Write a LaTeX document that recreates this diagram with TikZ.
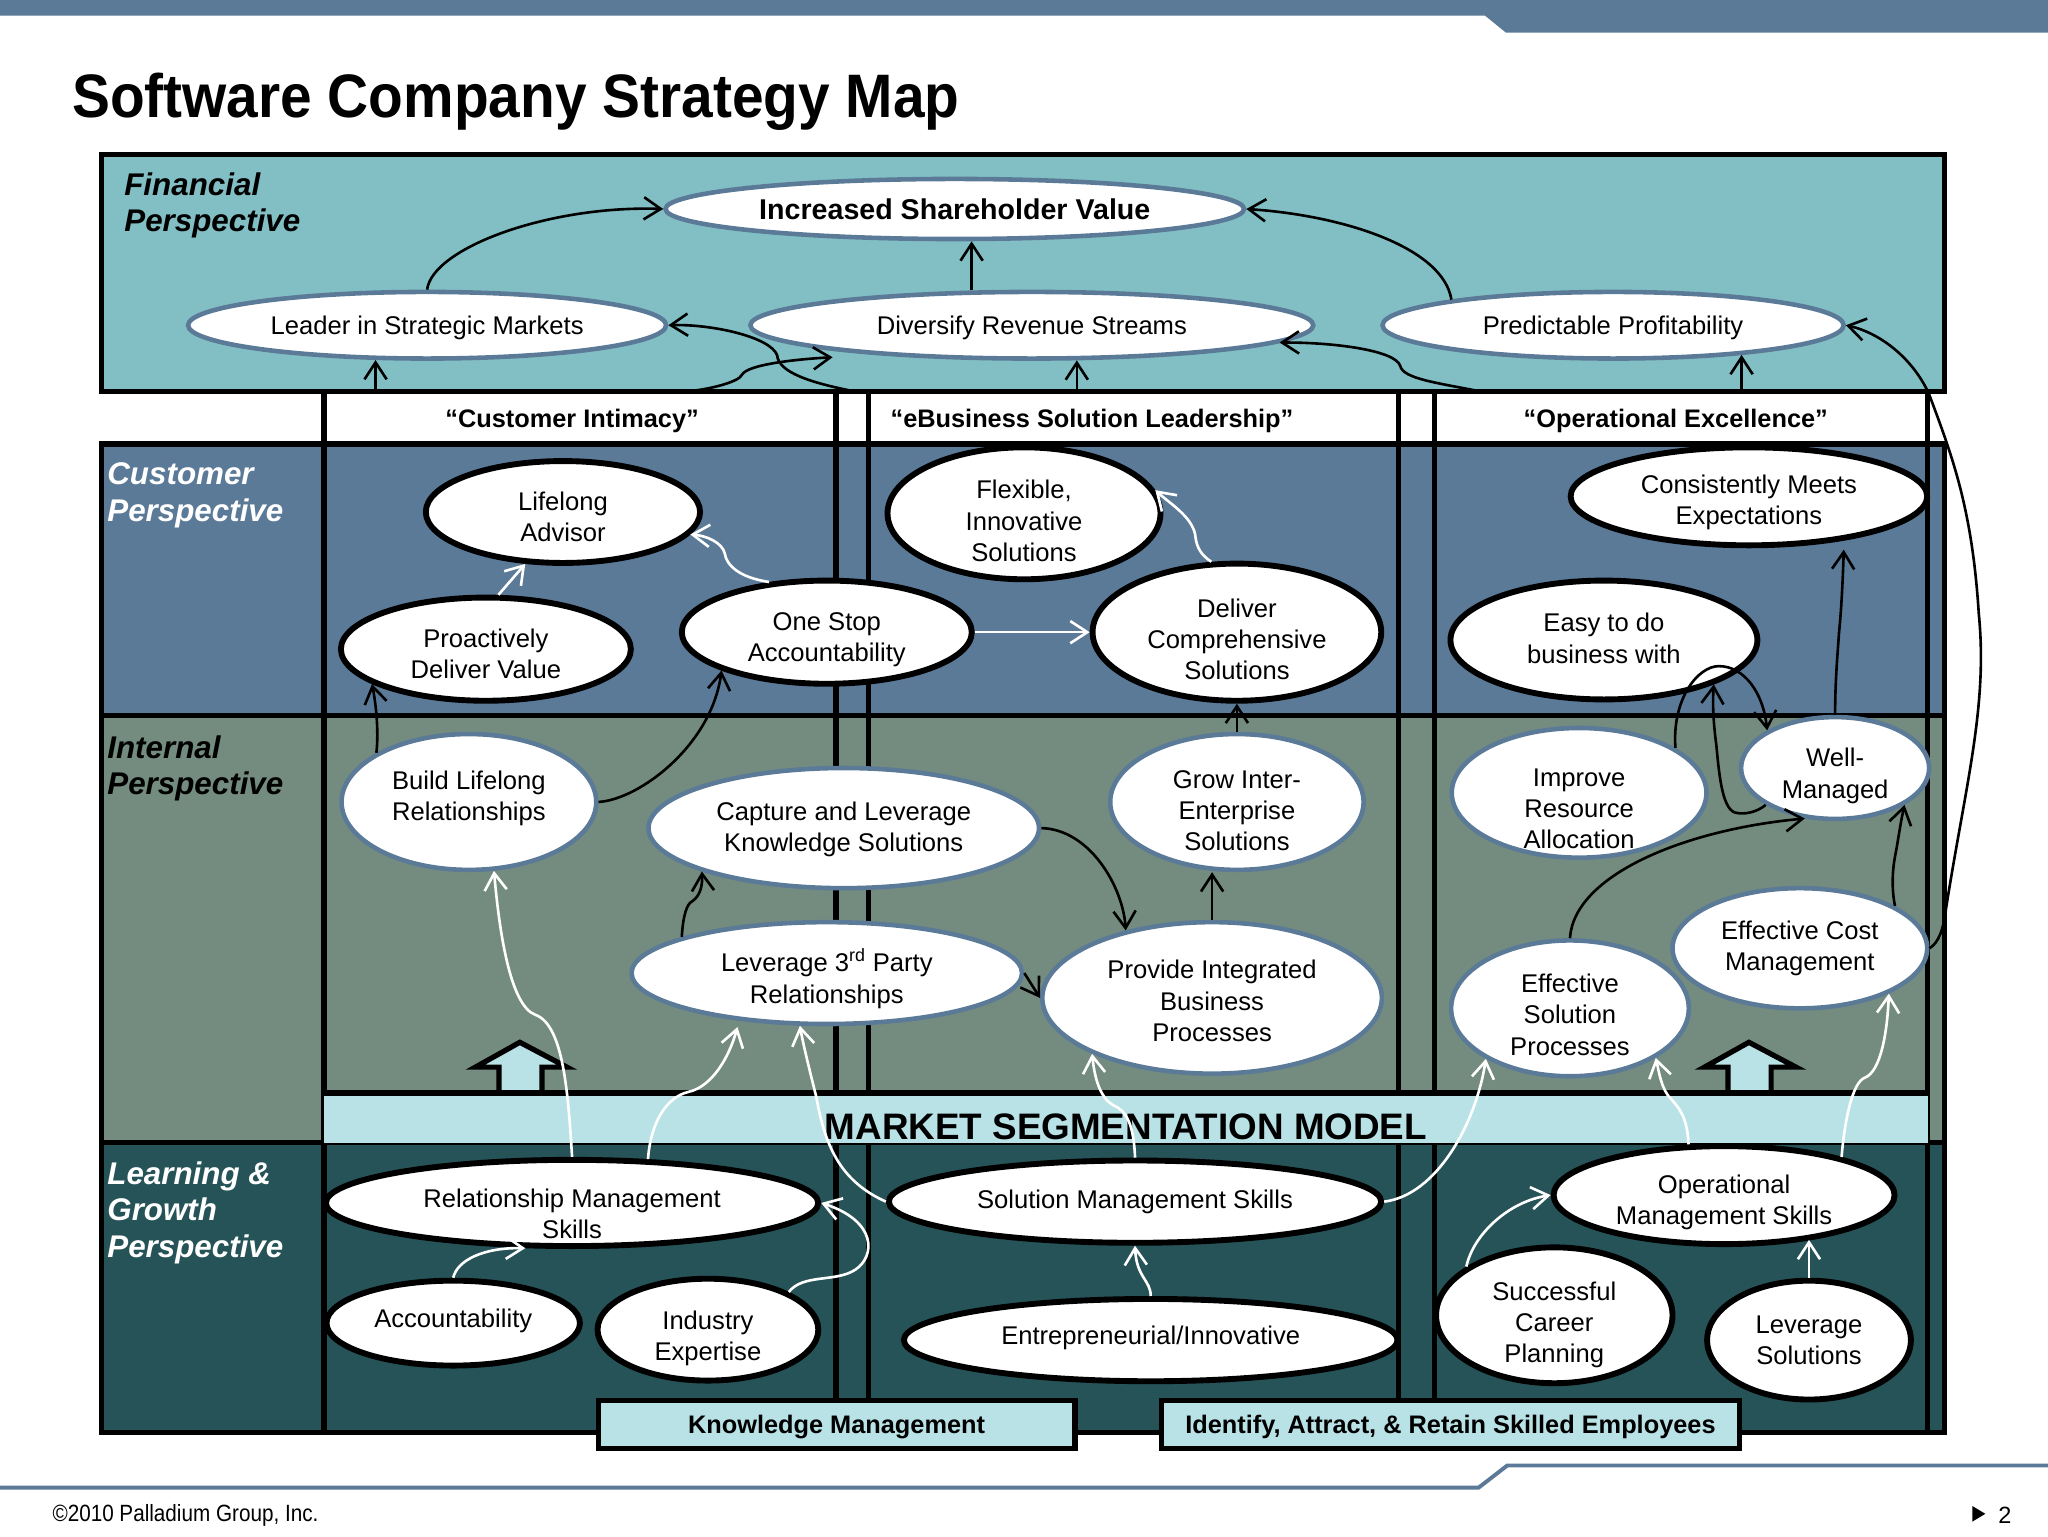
\documentclass[tikz,border=0pt]{standalone}
\usepackage{graphicx}
\usepackage{fontspec}
\setmainfont{Liberation Sans}
\usepackage{tikz}
\usetikzlibrary{shapes.geometric, arrows.meta}
\definecolor{bluegrey}{HTML}{5B7A97}
\definecolor{finteal}{HTML}{82BFC4}
\definecolor{intgreen}{HTML}{748C7F}
\definecolor{learnteal}{HTML}{255357}
\definecolor{palebar}{HTML}{B9E2E6}
\begin{document}
\begin{tikzpicture}[x=1pt, y=-1pt,
    every node/.style={font=\fontsize{19.6}{24}\selectfont, inner sep=0pt}]

    \tikzstyle{blueoval}=[ellipse, draw=bluegrey, line width=3.5pt, fill=white, inner sep=-8pt, align=center, text=black]
    \tikzstyle{blackoval}=[ellipse, draw=black, line width=4.5pt, fill=white, inner sep=-8pt, align=center, text=black]
    \tikzstyle{bandbox}=[draw=black, line width=4pt, line join=miter]
    \tikzstyle{panel}=[black, line width=4pt]
    \tikzstyle{headtext}=[font=\fontsize{19.4}{24}\selectfont\bfseries, minimum height=40pt]
    \tikzstyle{sidetext}=[font=\fontsize{24}{28}\selectfont\bfseries\itshape, align=left, anchor=north west]
    \tikzstyle{barbox}=[draw=black, line width=4pt, fill=palebar, font=\fontsize{19.4}{24}\selectfont\bfseries]
    \tikzstyle{blockarrow}=[draw=black, line width=4pt, fill=palebar, line join=miter]
    \tikzstyle{blackarrow}=[black, line width=2pt, -{Straight Barb[length=13pt,width=17pt]}]
    \tikzstyle{whitearrow}=[white, line width=2pt, -{Straight Barb[length=13pt,width=17pt]}]

    \useasboundingbox (0,0) rectangle (1568,1176);
    \fill[white] (0,0) rectangle (1568,1176);

    \fill[bluegrey] (0,0) -- (1568,0) -- (1568,25) -- (1153,25) -- (1137,12) -- (0,12) -- cycle;
    \draw[bluegrey, line width=3pt] (0,1139) -- (1132,1139) -- (1154,1122) -- (1568,1122);

    \node[anchor=west, font=\fontsize{47}{50}\selectfont\bfseries] (title) at (55,78) {\scalebox{0.926}[1]{Software Company Strategy Map}};

    \fill[white] (248,300) rectangle (1476,340);
    \draw[bandbox, fill=finteal] (78,118) rectangle (1489,300);
    \draw[bandbox, fill=bluegrey] (78,340) rectangle (1489,548);
    \draw[bandbox, fill=intgreen] (78,548) rectangle (1489,875);
    \draw[bandbox, fill=learnteal] (78,875) rectangle (1489,1097);

    \draw[panel] (248,300) -- (248,1097);
    \draw[panel] (640,300) -- (640,1097);
    \draw[panel] (665,300) -- (665,1097);
    \draw[panel] (1071,300) -- (1071,1097);
    \draw[panel] (1098,300) -- (1098,1097);
    \draw[panel] (1476,300) -- (1476,1097);

    \node[sidetext] (finlabel) at (95,132) {Financial\\Perspective};
    \node[sidetext, text=white] (custlabel) at (82,354) {Customer\\Perspective};
    \node[sidetext] (intlabel) at (82,563) {Internal\\Perspective};
    \node[sidetext, text=white] (learnlabel) at (82,889) {Learning \&\\Growth\\Perspective};

    \node[headtext, minimum width=380pt] (custint) at (438,320) {\rule{0pt}{18.5pt}“Customer Intimacy”};
    \node[headtext, minimum width=380pt] (ebiz) at (836,320) {\rule{0pt}{18.5pt}“eBusiness Solution Leadership”};
    \node[headtext, minimum width=360pt] (opex) at (1283,320) {\rule{0pt}{18.5pt}“Operational Excellence”};

    \draw[blockarrow] (398,798) -- (434,817) -- (415,817) -- (415,837) -- (382,837) -- (382,817) -- (364,817) -- cycle;
    \draw[blockarrow] (1339,798) -- (1375,817) -- (1356,817) -- (1356,837) -- (1323,837) -- (1323,817) -- (1305,817) -- cycle;

    \node[minimum width=1228pt, minimum height=38pt, fill=palebar] (mktbar) at (862,856) {};
    \draw[panel] (mktbar.north west) -- (mktbar.north east);
    \node[font=\fontsize{28.2}{32}\selectfont\bfseries] (mkttext) at (862,863) {MARKET SEGMENTATION MODEL};
    \node[barbox, minimum width=365pt, minimum height=37pt] (knowbox) at (640.5,1090.5) {\rule{0pt}{18.5pt}Knowledge Management};
    \node[barbox, minimum width=443pt, minimum height=37pt] (idbox) at (1110.5,1090.5) {\rule{0pt}{18.5pt}Identify, Attract, \& Retain Skilled Employees};

    \node[blueoval, minimum width=443pt, minimum height=46pt, font=\fontsize{21.9}{24}\selectfont\bfseries] (inc) at (731,160) {Increased Shareholder Value};
    \node[blueoval, minimum width=366pt, minimum height=51pt] (leader) at (327,249) {\rule{0pt}{19pt}Leader in Strategic Markets};
    \node[blueoval, minimum width=431pt, minimum height=51pt] (diversify) at (790,249) {\rule{0pt}{19pt}Diversify Revenue Streams};
    \node[blueoval, minimum width=353pt, minimum height=51pt] (predict) at (1235,249) {\rule{0pt}{19pt}Predictable Profitability};

    \node[blackoval, minimum width=210pt, minimum height=78pt] (lifelong) at (431,392) {\rule{0pt}{22pt}Lifelong\\Advisor};
    \node[blackoval, minimum width=222pt, minimum height=79pt] (proactive) at (372,497) {\rule{0pt}{21pt}Proactively\\Deliver Value};
    \node[blackoval, minimum width=222pt, minimum height=79pt] (onestop) at (633,484) {\rule{0pt}{25pt}One Stop\\Accountability};
    \node[blackoval, minimum width=209pt, minimum height=101pt] (flexible) at (784,393) {\rule{0pt}{26pt}Flexible,\\Innovative\\Solutions};
    \node[blackoval, minimum width=221pt, minimum height=105pt] (deliver) at (947,484) {\rule{0pt}{25pt}Deliver\\Comprehensive\\Solutions};
    \node[blackoval, minimum width=273pt, minimum height=75pt] (consistent) at (1339,380) {\rule{0pt}{23pt}Consistently Meets\\Expectations};
    \node[blackoval, minimum width=235pt, minimum height=91pt] (easy) at (1228,490) {Easy to do\\business with\rule[-3pt]{0pt}{0pt}};

    \node[blueoval, minimum width=195pt, minimum height=104pt] (buildlife) at (359,614) {Build Lifelong\\Relationships\rule[-10pt]{0pt}{0pt}};
    \node[blueoval, minimum width=299pt, minimum height=92pt] (capture) at (646,634) {\rule{0pt}{16pt}Capture and Leverage\\Knowledge Solutions};
    \node[blueoval, minimum width=194pt, minimum height=104pt] (grow) at (947,614) {\rule{0pt}{27pt}Grow Inter-\\Enterprise\\Solutions};
    \node[blueoval, minimum width=195pt, minimum height=91pt] (improve) at (1209,607) {\rule{0pt}{38pt}Improve\\Resource\\Allocation};
    \node[blueoval, minimum width=144pt, minimum height=78pt] (well) at (1405,588) {\rule{0pt}{26pt}Well-\\Managed};
    \node[blueoval, minimum width=299pt, minimum height=78pt] (lev3rd) at (633,745) {\rule{0pt}{26pt}Leverage 3\textsuperscript{rd} Party\\Relationships};
    \node[blueoval, minimum width=260pt, minimum height=116pt] (provide) at (928,764) {\rule{0pt}{19pt}Provide Integrated\\Business\\Processes};
    \node[blueoval, minimum width=182pt, minimum height=104pt] (effsol) at (1202,772) {\rule{0pt}{24pt}Effective\\Solution\\Processes};
    \node[blueoval, minimum width=195pt, minimum height=92pt] (effcost) at (1378,726) {Effective Cost\\Management};

    \node[blackoval, minimum width=377pt, minimum height=66pt] (relmgmt) at (438,921) {\rule{0pt}{31pt}Relationship Management\\Skills};
    \node[blackoval, minimum width=194pt, minimum height=65pt] (account) at (347,1013) {Accountability\rule[-8pt]{0pt}{0pt}};
    \node[blackoval, minimum width=169pt, minimum height=78pt] (industry) at (542,1018) {\rule{0pt}{28pt}Industry\\Expertise};
    \node[blackoval, minimum width=377pt, minimum height=63pt] (solmgmt) at (869,920) {Solution Management Skills\rule[-4pt]{0pt}{0pt}};
    \node[blackoval, minimum width=378pt, minimum height=63pt] (entre) at (881,1026) {Entrepreneurial/Innovative\rule[-7pt]{0pt}{0pt}};
    \node[blackoval, minimum width=261pt, minimum height=75pt] (opmgmt) at (1320,915) {\rule{0pt}{25pt}Operational\\Management Skills};
    \node[blackoval, minimum width=181pt, minimum height=104pt] (career) at (1190,1007) {\rule{0pt}{29pt}Successful\\Career\\Planning};
    \node[blackoval, minimum width=156pt, minimum height=91pt] (levsol) at (1385,1026) {Leverage\\Solutions};

    \draw[blackarrow] (leader.90) .. controls (331,190) and (420,157) .. (inc.180);
    \draw[blackarrow] (diversify.150 ) -- (diversify.150 |- inc.south);
    \draw[blackarrow] (predict.171) .. controls (1105,190) and (1030,165) .. (inc.east);
    \draw[blackarrow] (leader.214 |- custint.north) -- (leader.214);
    \draw[blackarrow] ([xshift=87pt]custint.north) .. controls (545,298) and (566,292) .. (568,287) .. controls (572,279) and (610,275) .. ([xshift=14pt,yshift=-7pt]diversify.186.9);
    \draw[blackarrow] ([xshift=-181pt]ebiz.north) .. controls (620,293) and (596,285) .. (595,272) .. controls (590,258) and (545,248) .. (leader.east);
    \draw[blackarrow] (diversify.322 |- ebiz.north) -- (diversify.322);
    \draw[blackarrow] ([xshift=-149pt]opex.north) .. controls (1100,293) and (1074,290) .. (1072,280) .. controls (1068,268) and (1020,262) .. (diversify.356.5);
    \draw[blackarrow] (predict.347.8 |- opex.north) -- (predict.347.8);
    \draw[blackarrow] (effcost.east) .. controls (1484,722) and (1488,712) .. (1490,695) .. controls (1505,600) and (1522,540) .. (1515,470) .. controls (1510,390) and (1495,350) .. (1477,302) .. controls (1465,275) and (1440,255) .. (predict.east);

    \draw[whitearrow] (proactive.77.3) -- (lifelong.234.7);
    \draw[whitearrow] (onestop.139.3) .. controls (565,442) and (556,432) .. (555,424) .. controls (553,415) and (540,410) .. (lifelong.350.6);
    \draw[whitearrow] (onestop.east) -- (deliver.west);
    \draw[whitearrow] (deliver.110) .. controls (920,425) and (916,420) .. (915,409) .. controls (912,395) and (895,385) .. (flexible.10.2);
    \draw[blackarrow] (well.90) .. controls (1405,520) and (1407,500) .. (1408,484) .. controls (1410,465) and (1411,440) .. ([yshift=-7pt]consistent.335.8);

    \draw[blackarrow] (buildlife.152) .. controls (290,560) and (288,540) .. (proactive.197.2);
    \draw[blackarrow] (buildlife.east) .. controls (490,612) and (545,570) .. (onestop.200.1);
    \draw[blackarrow] (grow.north) -- (deliver.south);
    \draw[blackarrow] (provide.90) -- (provide.90 |- grow.south);
    \draw[blackarrow] (capture.east) .. controls (835,635) and (860,680) .. (provide.142.6);
    \draw[blackarrow] (lev3rd.166.6) .. controls (523,700) and (526,692) .. (530,690) .. controls (536,686) and (538,678) .. (capture.197);
    \draw[blackarrow] (lev3rd.east) -- (provide.west);
    \draw[blackarrow] (effsol.north) .. controls (1205,670) and (1290,635) .. (well.239.3);
    \draw[blackarrow] (effcost.24.9) .. controls (1448,680) and (1449,665) .. (1451,655) .. controls (1453,645) and (1455,630) .. (well.332.2);
    \draw[blackarrow] (improve.25.3) .. controls (1280,535) and (1300,510) .. (1316,510) .. controls (1335,510) and (1350,530) .. (well.151.7);
    \draw[blackarrow] (well.208.3) .. controls (1345,622) and (1335,624) .. (1328,622) .. controls (1318,618) and (1316,590) .. (1314,570) .. controls (1312,555) and (1311,540) .. (easy.338.3);

    \draw[whitearrow] (relmgmt.north) .. controls (435,840) and (432,785) .. (410,777) .. controls (390,770) and (382,710) .. (buildlife.290.9);
    \draw[whitearrow] (relmgmt.30) .. controls (498,860) and (510,840) .. (527,836) .. controls (545,832) and (558,810) .. ([yshift=-5pt]lev3rd.208);
    \draw[whitearrow] (solmgmt.west) .. controls (645,905) and (632,880) .. (625,840) .. controls (620,820) and (615,800) .. (lev3rd.243.3);
    \draw[whitearrow] (solmgmt.north) .. controls (868,860) and (862,850) .. (852,846) .. controls (842,840) and (838,825) .. (provide.205);
    \draw[whitearrow] (solmgmt.east) .. controls (1100,915) and (1130,860) .. (effsol.211);
    \draw[whitearrow] (entre.north) .. controls (881,980) and (870,978) .. (solmgmt.south);
    \draw[whitearrow] (industry.25.4) .. controls (615,975) and (640,982) .. (655,972) .. controls (670,962) and (672,935) .. (relmgmt.east);
    \draw[whitearrow] (account.north) .. controls (350,965) and (370,955) .. (relmgmt.224);
    \draw[whitearrow] (career.151.3) .. controls (1128,945) and (1155,920) .. (opmgmt.west);
    \draw[whitearrow] (levsol.north) -- (levsol.north |- opmgmt.333.1);
    \draw[whitearrow] (opmgmt.125) .. controls (1292,855) and (1285,848) .. (1280,842) .. controls (1272,835) and (1270,820) .. (effsol.330.4);
    \draw[whitearrow] (opmgmt.18) .. controls (1412,860) and (1418,828) .. (1428,825) .. controls (1440,820) and (1445,790) .. (effcost.333);

    \node[anchor=west, font=\fontsize{18}{20}\selectfont] (copy) at (40,1160) {\scalebox{0.88}[1]{©2010 Palladium Group, Inc.}};
    \fill[black] (1510,1153) -- (1520,1159) -- (1510,1165) -- cycle;
    \node[font=\fontsize{18}{20}\selectfont] (pagenum) at (1535,1160) {2};

    \end{tikzpicture}
\end{document}
